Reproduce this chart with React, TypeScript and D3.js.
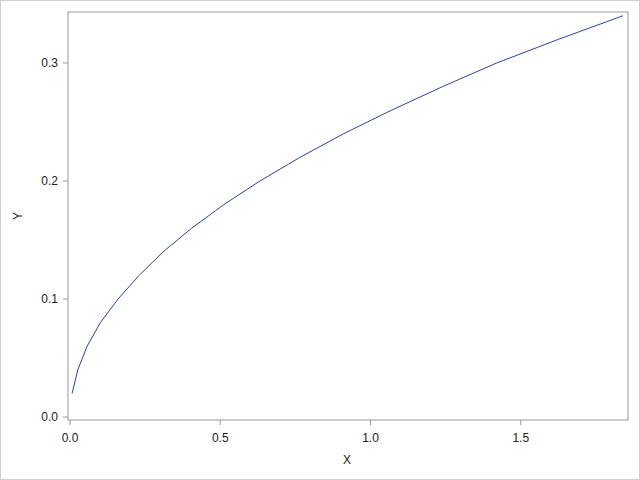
import React from "react";
import * as d3 from "d3";

const xValues = [0.007, 0.026, 0.057, 0.101, 0.16, 0.23, 0.31, 0.405, 0.512, 0.632, 0.765, 0.91, 1.07, 1.24, 1.42, 1.625, 1.84];
const yValues = [0.02, 0.04, 0.06, 0.08, 0.1, 0.12, 0.14, 0.16, 0.18, 0.2, 0.22, 0.24, 0.26, 0.28, 0.3, 0.32, 0.34];
const xTicks = [0, 0.5, 1.0, 1.5];
const yTicks = [0, 0.1, 0.2, 0.3];

const W = 640;
const H = 480;
const left = 68;
const right = 628;
const top = 12;
const bottom = 420;

export default function App() {
  const x = d3.scaleLinear().domain([-0.0066, 1.857]).range([left, right]);
  const y = d3.scaleLinear().domain([-0.0025, 0.3432]).range([bottom, top]);
  const pts = xValues.map((v, i) => [x(v), y(yValues[i])] as [number, number]);
  const line = d3.line<[number, number]>()(pts) || "";
  const font = "'Liberation Sans', Arial, sans-serif";
  return (
    <svg width={W} height={H} style={{ position: "absolute", left: 0, top: 0 }} fontFamily={font}>
      <rect x={0.5} y={0.5} width={W - 1} height={H - 1} fill="#fff" stroke="#cfcfcf" />
      <rect x={left} y={top} width={right - left} height={bottom - top} fill="#fff" stroke="#9a9a9a" />
      {xTicks.map((t) => (
        <g key={"x" + t}>
          <line x1={x(t)} x2={x(t)} y1={bottom} y2={bottom + 5} stroke="#9a9a9a" />
          <text x={x(t)} y={442} textAnchor="middle" fontSize={12} fill="#222">{d3.format(".1f")(t)}</text>
        </g>
      ))}
      {yTicks.map((t) => (
        <g key={"y" + t}>
          <line x1={left - 5} x2={left} y1={y(t)} y2={y(t)} stroke="#9a9a9a" />
          <text x={58} y={y(t) + 4} textAnchor="end" fontSize={12} fill="#222">{d3.format(".1f")(t)}</text>
        </g>
      ))}
      <text x={347} y={464} textAnchor="middle" fontSize={12} fill="#222">X</text>
      <text transform="translate(22,216) rotate(-90)" textAnchor="middle" fontSize={12} fill="#222">Y</text>
      <path d={line} fill="none" stroke="#2546b0" strokeWidth={1} />
    </svg>
  );
}
